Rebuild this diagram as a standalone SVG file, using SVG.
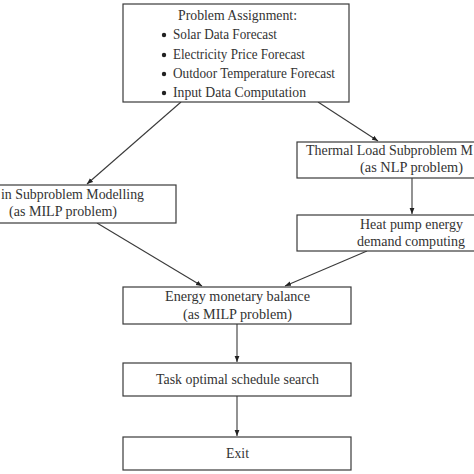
<svg xmlns="http://www.w3.org/2000/svg" width="474" height="474" viewBox="0 0 474 474">
<style>
.box{fill:#fff;stroke:#3a3a3a;stroke-width:1.2}
.t{font-family:'Liberation Serif','DejaVu Serif',serif;font-size:14px;fill:#333}
.c{text-anchor:middle}
.e{stroke:#3a3a3a;stroke-width:1.1;fill:none;marker-end:url(#a)}
</style>
<defs>
<marker id="a" viewBox="0 0 10 10" refX="10" refY="5" markerWidth="6" markerHeight="6" markerUnits="userSpaceOnUse" orient="auto">
<path d="M0,1 L10,5 L0,9 Z" fill="#222"/>
</marker>
</defs>
<rect width="474" height="474" fill="#fff"/>
<g id="connectors">
<line class="e" x1="181" y1="102" x2="87" y2="184"/>
<line class="e" x1="318" y1="102" x2="378" y2="141"/>
<line class="e" x1="412" y1="178" x2="412" y2="214"/>
<line class="e" x1="97" y1="223" x2="202" y2="286"/>
<line class="e" x1="367" y1="251" x2="285" y2="286"/>
<line class="e" x1="237" y1="324" x2="237" y2="362"/>
<line class="e" x1="237" y1="396" x2="237" y2="436"/>
</g>
<g id="assign">
<rect class="box" x="123" y="4" width="226" height="98"/>
<text class="t" x="178" y="20" textLength="119" lengthAdjust="spacingAndGlyphs">Problem Assignment:</text>
<circle cx="164" cy="35" r="2.2" fill="#222"/>
<circle cx="164" cy="55" r="2.2" fill="#222"/>
<circle cx="164" cy="74" r="2.2" fill="#222"/>
<circle cx="164" cy="93" r="2.2" fill="#222"/>
<text class="t" x="173" y="39" textLength="104" lengthAdjust="spacingAndGlyphs">Solar Data Forecast</text>
<text class="t" x="173" y="59" textLength="132" lengthAdjust="spacingAndGlyphs">Electricity Price Forecast</text>
<text class="t" x="173" y="78" textLength="162" lengthAdjust="spacingAndGlyphs">Outdoor Temperature Forecast</text>
<text class="t" x="173" y="97" textLength="133" lengthAdjust="spacingAndGlyphs">Input Data Computation</text>
</g>
<g id="left">
<rect class="box" x="-50" y="185" width="226" height="38"/>
<text class="t" x="1" y="199" textLength="143" lengthAdjust="spacingAndGlyphs">in Subproblem Modelling</text>
<text class="t" x="9" y="216" textLength="108" lengthAdjust="spacingAndGlyphs">(as MILP problem)</text>
</g>
<g id="thermal">
<rect class="box" x="297" y="142" width="230" height="36"/>
<text class="t" x="306" y="155" textLength="167" lengthAdjust="spacingAndGlyphs">Thermal Load Subproblem M</text>
<text class="t" x="360" y="172" textLength="103" lengthAdjust="spacingAndGlyphs">(as NLP problem)</text>
</g>
<g id="heatpump">
<rect class="box" x="297" y="215" width="230" height="36"/>
<text class="t" x="360" y="229" textLength="103" lengthAdjust="spacingAndGlyphs">Heat pump energy</text>
<text class="t" x="357" y="246" textLength="108" lengthAdjust="spacingAndGlyphs">demand computing</text>
</g>
<g id="energy">
<rect class="box" x="123" y="287" width="228" height="37"/>
<text class="t" x="165" y="301" textLength="145" lengthAdjust="spacingAndGlyphs">Energy monetary balance</text>
<text class="t" x="183" y="319" textLength="109" lengthAdjust="spacingAndGlyphs">(as MILP problem)</text>
</g>
<g id="task">
<rect class="box" x="123" y="363" width="228" height="33"/>
<text class="t" x="156" y="384" textLength="163" lengthAdjust="spacingAndGlyphs">Task optimal schedule search</text>
</g>
<g id="exit">
<rect class="box" x="123" y="437" width="228" height="33"/>
<text class="t" x="226" y="458" textLength="23" lengthAdjust="spacingAndGlyphs">Exit</text>
</g>
</svg>
